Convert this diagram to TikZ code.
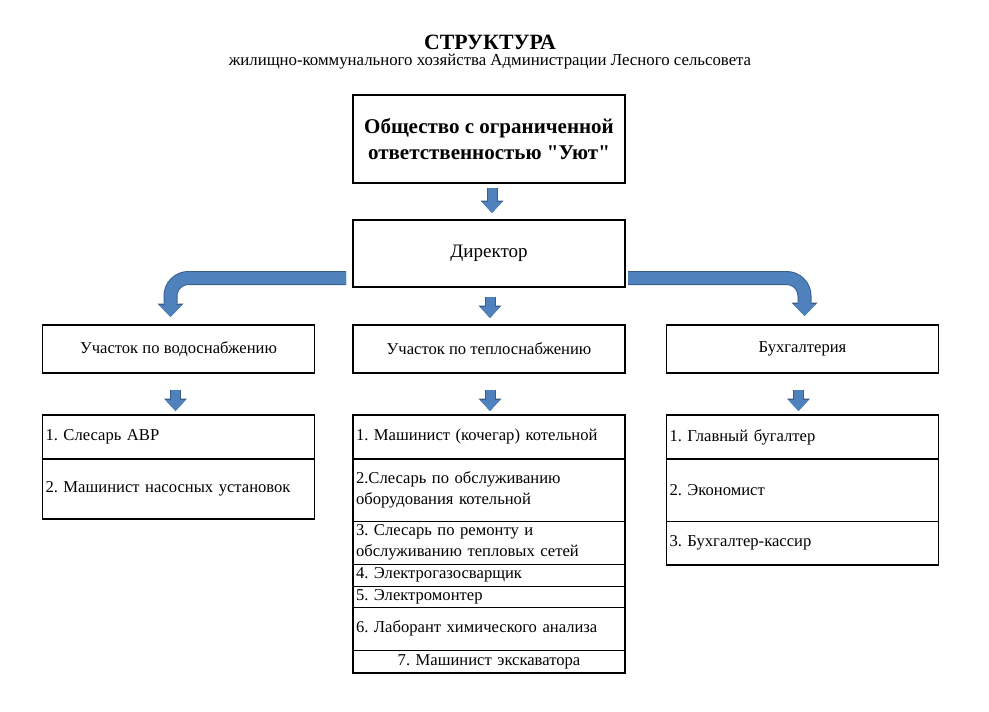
\documentclass[tikz,border=0pt]{standalone}
\usepackage{fontspec}
\setmainfont{Liberation Serif}[Ligatures=TeXOff]
\usetikzlibrary{positioning,arrows.meta}
\definecolor{arrfill}{HTML}{4F81BD}
\definecolor{arredge}{HTML}{385D8A}
\frenchspacing
\tikzset{
  box/.style={draw,line width=1.8pt,minimum width=272pt,outer sep=0pt,align=center,font=\fontsize{16.6}{20}\selectfont},
  cell/.style={draw,line width=0.8pt,minimum width=272pt,text width=266pt,inner xsep=3pt,inner ysep=0pt,outer sep=0pt,align=left,font=\fontsize{16.6}{21.5}\selectfont},
  frame/.style={draw,line width=1.8pt},
  fatarr/.style={arrfill,line width=12pt,-{Triangle[length=12pt,width=23pt,line width=0pt]},
    preaction={draw=arredge,line width=14pt,-{Triangle[length=13.5pt,width=26pt,line width=0pt]}}},
  smallarr/.style={arrfill,line width=9pt,-{Triangle[length=11pt,width=20pt,line width=0pt]},
    preaction={draw=arredge,line width=11pt,-{Triangle[length=12.5pt,width=23pt,line width=0pt]}}}
}
\begin{document}
\begin{tikzpicture}[x=1pt,y=-1pt]
    \useasboundingbox (0,0) rectangle (989,712);
    % heading
    \node[font=\bfseries\fontsize{21.8}{24}\selectfont] (title) at (490,42) {СТРУКТУРА};
    \node[font=\fontsize{16.8}{19}\selectfont] (subtitle) at (490,62) {жилищно-коммунального хозяйства Администрации Лесного сельсовета};
    % top levels
    \node[box,minimum height=88pt,font=\bfseries\fontsize{21}{25.5}\selectfont] (ooo) at (489,139) {Общество с ограниченной\\ответственностью "Уют"};
    \node[box,minimum height=67pt,font=\fontsize{19}{22}\selectfont] (dir) at (489,253.5) {Директор};
    \node[box,minimum height=48pt] (water) at (178.5,349) {Участок по водоснабжению};
    \node[box,minimum height=48pt] (heat) at (489,349) {Участок по теплоснабжению};
    \node[box,minimum height=48pt] (acc) at (802.5,349) {Бухгалтерия};
    % water staff
    \node[cell,anchor=north,minimum height=44pt] (w1) at (178.5,415) {1. Слесарь АВР};
    \node[cell,below=0pt of w1,minimum height=60pt] (w2) {2. Машинист насосных установок};
    % heat staff
    \node[cell,anchor=north,minimum height=44pt] (h1) at (489,415) {1. Машинист (кочегар) котельной};
    \node[cell,below=0pt of h1,minimum height=62pt] (h2) {2.Слесарь по обслуживанию\\оборудования котельной};
    \node[cell,below=0pt of h2,minimum height=43pt] (h3) {3. Слесарь по ремонту и\\обслуживанию тепловых сетей};
    \node[cell,below=0pt of h3,minimum height=22pt] (h4) {4. Электрогазосварщик};
    \node[cell,below=0pt of h4,minimum height=21pt] (h5) {5. Электромонтер};
    \node[cell,below=0pt of h5,minimum height=43pt] (h6) {6. Лаборант химического анализа};
    \node[cell,below=0pt of h6,minimum height=23pt,align=center] (h7) {7. Машинист экскаватора};
    % accounting staff
    \node[cell,anchor=north,minimum height=44pt] (a1) at (802.5,415) {1. Главный бугалтер};
    \node[cell,below=0pt of a1,minimum height=62pt] (a2) {2. Экономист};
    \node[cell,below=0pt of a2,minimum height=44pt] (a3) {3. Бухгалтер-кассир};
    % outer frames
    \draw[frame] (w1.north west) rectangle (w2.south east) (w1.south west) -- (w1.south east);
    \draw[frame] (h1.north west) rectangle (h7.south east) (h1.south west) -- (h1.south east);
    \draw[frame] (a1.north west) rectangle (a3.south east) (a1.south west) -- (a1.south east);
    % arrows
    \draw[smallarr] ([xshift=3pt,yshift=-5pt]ooo.south) -- ([xshift=3pt,yshift=7pt]dir.north);
    \draw[smallarr] ([xshift=1pt,yshift=-10pt]dir.south) -- ([xshift=1pt,yshift=7pt]heat.north);
    \draw[fatarr,rounded corners=18pt] ([xshift=-7pt,yshift=9pt]dir.south west) -| ([xshift=-8pt,yshift=8pt]water.north);
    \draw[fatarr,rounded corners=18pt] ([xshift=3pt,yshift=9pt]dir.south east) -| ([xshift=2pt,yshift=9pt]acc.north);
    \draw[smallarr] ([xshift=-3pt,yshift=-17pt]water.south) -- ([xshift=-3pt,yshift=4pt]w1.north);
    \draw[smallarr] ([xshift=1pt,yshift=-17pt]heat.south) -- ([xshift=1pt,yshift=4pt]h1.north);
    \draw[smallarr] ([xshift=-4pt,yshift=-17pt]acc.south) -- ([xshift=-4pt,yshift=4pt]a1.north);
\end{tikzpicture}
\end{document}
